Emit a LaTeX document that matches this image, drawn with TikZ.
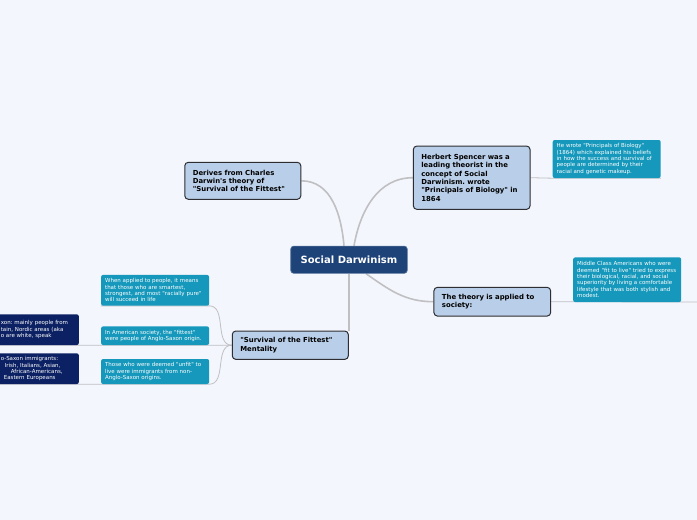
\documentclass[tikz,border=0pt]{standalone}
\usepackage{fontspec}
\setmainfont[Ligatures=TeXOff]{DejaVu Sans}
\usetikzlibrary{positioning}
\definecolor{bgblue}{RGB}{243,246,253}
\definecolor{mainblue}{RGB}{29,67,121}
\definecolor{topicblue}{RGB}{185,206,232}
\definecolor{topicedge}{RGB}{45,45,50}
\definecolor{noteteal}{RGB}{21,152,187}
\definecolor{darknavy}{RGB}{12,33,99}
\definecolor{linegray}{RGB}{192,192,195}
\pgfdeclarelayer{back}
\pgfdeclarelayer{lines}
\pgfsetlayers{back,lines,main}
\frenchspacing

\begin{document}
\begin{tikzpicture}[x=1pt,y=1pt,
  main node/.style={rectangle,rounded corners=3pt,fill=mainblue,draw=mainblue!70!white,line width=0.6pt,text=white,font=\fontsize{10}{12}\selectfont\bfseries,minimum width=116.6pt,minimum height=27.3pt,inner sep=0pt},
  topic node/.style={rectangle,rounded corners=3.5pt,fill=topicblue,draw=topicedge,line width=1pt,font=\fontsize{6.9}{8.35}\selectfont\bfseries,align=left,inner xsep=8pt,inner ysep=0pt,text width=100pt},
  note node/.style={rectangle,rounded corners=2pt,fill=noteteal,text=white,font=\fontsize{5.5}{6.35}\selectfont,align=left,inner xsep=4pt,inner ysep=0pt,text width=100pt},
  dark node/.style={note node,fill=darknavy,text width=74pt},
  branch/.style={draw=linegray,line width=1.6pt},
  twig/.style={draw=linegray,line width=0.8pt}]

  \useasboundingbox (0,0) rectangle (697,-520);
  \begin{pgfonlayer}{back}
    \fill[bgblue] (0,0) rectangle (697,-520);
  \end{pgfonlayer}

  % main topic and its branches
  \node[main node] (n0) at (349,-259.7) {Social Darwinism};
  \node[topic node,minimum height=37pt] (n1) at (242.8,-180.8) {Derives from Charles\\Darwin's theory of\\"Survival of the Fittest"};
  \node[topic node,text width=100.7pt,minimum height=63.3pt] (n2) at (471.7,-177.7) {Herbert Spencer was a\\leading theorist in the\\concept of Social\\Darwinism. wrote\\"Principals of Biology" in\\1864};
  \node[topic node,text width=100.7pt,minimum height=28.7pt] (n3) at (492.3,-301.7) {The theory is applied to\\society:};
  \node[topic node,minimum height=28.3pt] (n4) at (290.3,-345.2) {"Survival of the Fittest"\\Mentality};

  % notes
  \node[note node,minimum height=38pt] (n5) at (606.7,-159) {He wrote "Principals of Biology"\\(1864) which explained his beliefs\\in how the success and survival of\\people are determined by their\\racial and genetic makeup.};
  \node[note node,minimum height=44.7pt] (n6) at (627.2,-279.7) {Middle Class Americans who were\\deemed "fit to live" tried to express\\their biological, racial, and social\\superiority by living a comfortable\\lifestyle that was both stylish and\\modest.};
  \node[note node,minimum height=30.7pt] (n7) at (155.1,-290.3) {When applied to people, it means\\that those who are smartest,\\strongest, and most "racially pure"\\will succeed in life};
  \node[note node,minimum height=18.6pt] (n8) at (155.1,-335.7) {In American society, the "fittest"\\were people of Anglo-Saxon origin.};
  \node[note node,minimum height=25pt] (n9) at (155.1,-371.5) {Those who were deemed "unfit" to\\live were immigrants from non-\\Anglo-Saxon origins.};
  \node[dark node,anchor=east,minimum height=30.7pt] (d1) at (79,-329.7) {xon: mainly people from\\tain, Nordic areas (aka\\o are white, speak};
  \node[dark node,anchor=east,minimum height=30.7pt] (d2) at (79,-368.7) {o-Saxon immigrants:\\\hspace*{4pt}Irish, Italians, Asian,\\\hspace*{10pt}African-Americans,\\\hspace*{3pt}Eastern Europeans};
  \coordinate (e1) at (697,-302);

  \begin{pgfonlayer}{lines}
  \draw[branch] ([xshift=-5pt]n0.north) to[out=95,in=0] (n1.east);
  \draw[branch] ([xshift=5pt]n0.north) to[out=80,in=180] (n2.west);
  \draw[branch] ([xshift=17pt]n0.south) to[out=-35,in=180] (n3.west);
  \draw[branch] (n0.south) -- (n0.south |- n4.north);

  \draw[twig] (n2.east) -- (n5.south west) -- (n5.south east);
  \draw[twig] (n3.east) -- (e1);
  \draw[twig] (n4.west) to[out=180,in=0] (n7.south east) -- (n7.south west);
  \draw[twig] (n4.west) -- (n8.south east) -- (d1.south west);
  \draw[twig] (n4.west) to[out=180,in=0] (n9.south east) -- (d2.south west);
  \end{pgfonlayer}
\end{tikzpicture}
\end{document}
